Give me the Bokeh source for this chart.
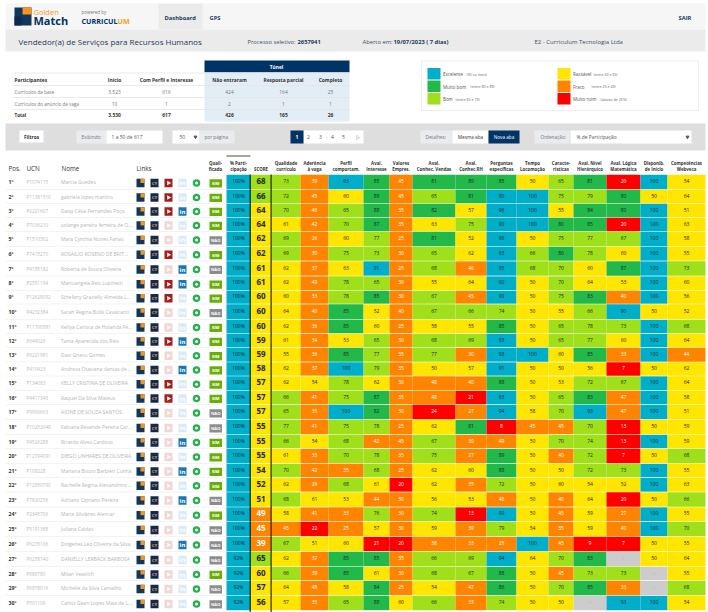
from bokeh.core.properties import value
from bokeh.models import ColumnDataSource, Range1d
from bokeh.plotting import figure
from bokeh.embed import file_html
from bokeh.resources import INLINE
import math

# candidates
ucn = ["P1074115","P11381510","P2221607","P7036210","P1510302","P7415270","P4185182","P2551194","P12628092","P4232384",
       "P11700581","P649026","P6221981","P410423","P134083","P4417345","P9906603","P10252049","P4526288","P12794091",
       "P108228","P12950790","P7820256","P2345706","P5191388","P6276106","P6258740","P686780","P6878016","P501109"]
nomes = ["Marcia Guedes","gabriela lopes martins","Daisy Célia Fernandes Poço","solange pereira ferreira de O...",
         "Mara Cynthia Nunes Farias","ROSAILIO ROSENO DE BRIT...","Roberta de Souza Oliveira","Mariuangela Reis Lupinetti",
         "Sthefany Grazielly Almeida L...","Sarah Regina Bulik Cavalcanti","Kellya Carioca de Holanda Fe...",
         "Tania Aparecida dos Reis","Davi Gnecu Gomes","Andreza Otaviana dantas de ...","KELLY CRISTINA DE OLIVEIRA",
         "Raquel Da Silva Mateus","AIONE DE SOUZA SANTOS","Fabiana Resende Pereira Car...","Ricardo Alves Cardoso",
         "DIEGO LINHARES DE OLIVEIRA","Mariana Bozzo Barbieri Cunha","Rachelle Regina Alexandrino ...",
         "Adriano Cipriano Pereira","Maria Silviânes Alencar","Juliana Caldas","Dolgenes Leo Oliveira da Silva",
         "DANIELLY LERBACK BARBOSA","Milan Veselich","Michelle da Silva Carvalho","Carlos Gean Lopes Maia de L..."]
video = [1,1,1,0,0,1,0,1,1,0, 0,1,0,0,1,1,0,0,0,0, 0,0,0,0,0,0,0,0,0,0]
linkedin = [0,0,1,0,0,0,1,1,0,0, 0,1,0,1,0,0,0,0,1,0, 1,0,1,0,0,1,0,0,0,0]
qualificado = [1,1,1,1,0,1,0,1,1,0, 1,1,1,1,1,1,0,0,1,1, 1,1,0,1,0,0,0,1,0,0]

# heatmap columns
pct = [100]*26 + [92]*4
score = [68,66,64,64,62,62,61,61,60,60,60,59,59,58,57,57,57,55,55,55,54,52,51,49,45,39,65,60,57,56]
qualidade = [73,72,70,61,69,69,62,62,60,64,62,61,55,62,62,66,65,77,66,61,70,62,68,58,45,67,62,66,64,57]
aderencia = [39,45,46,42,26,30,37,49,33,40,36,34,36,37,54,41,35,41,54,33,42,29,61,41,22,51,37,39,48,35]
perfil = [93,60,65,70,60,75,63,78,78,85,85,53,85,100,78,75,100,75,68,70,35,68,53,33,25,60,85,85,58,65]
interesse = [85,89,88,87,77,73,91,65,85,52,60,65,77,79,62,87,82,78,42,78,68,61,44,76,57,21,85,61,84,88]
valores = [45,45,35,35,25,30,25,30,30,40,25,30,35,35,30,35,30,25,45,35,25,20,30,30,30,20,35,30,25,60]
vendas = [81,65,82,63,81,65,68,55,67,67,58,68,77,50,48,48,24,62,67,75,62,62,56,74,59,38,66,68,54,66]
conhec_rh = [89,81,57,75,52,62,46,64,45,66,55,69,30,57,40,21,27,81,30,27,60,35,53,13,39,33,69,67,47,33]
perguntas = [85,90,96,90,96,93,95,90,90,74,85,93,93,91,88,93,94,8,49,89,88,72,46,90,79,25,94,88,86,74]
tempo = [50,100,100,100,50,66,68,50,50,50,50,50,100,50,50,50,58,45,50,50,50,50,50,50,54,100,64,50,50,50]
caract = [65,75,55,80,75,80,70,70,75,55,65,65,60,50,53,65,70,45,70,40,50,60,40,45,35,45,70,45,70,50]
nivel = [81,79,84,85,77,78,60,64,83,66,78,77,85,56,72,83,93,70,74,72,72,54,64,59,59,9,83,73,85,None]
logica = [20,80,80,20,67,60,87,53,40,90,73,60,33,7,67,47,47,13,13,7,73,52,20,27,40,7,None,73,33,93]
dispon = [100,50,100,100,100,100,100,100,100,50,100,100,100,50,100,100,100,50,100,50,100,100,50,100,100,50,50,None,None,100]
webveca = [54,64,51,63,58,55,73,60,56,52,68,64,44,62,64,58,51,59,59,68,55,63,66,55,70,55,64,55,68,54]

columns = [pct, score, qualidade, aderencia, perfil, interesse, valores, vendas, conhec_rh, perguntas,
           tempo, caract, nivel, logica, dispon, webveca]
col_titles = [("% Parti-","cipação"),("","SCORE"),("Qualidade","currículo"),("Aderência","à vaga"),("Perfil","comportam."),
              ("Aval.","Interesse"),("Valores","Empres."),("Aval.","Conhec. Vendas"),("Aval.","Conhec.RH"),
              ("Perguntas","específicas"),("Tempo","Locomoção"),("Caracte-","rísticas"),("Aval. Nível","Hierárquico"),
              ("Aval. Lógica","Matemática"),("Disponib.","de Início"),("Competências","Webveca")]

# funnel table
funil_rows = ["Currículos da base","Currículos do anúncio da vaga","Total"]
funil_inicio = ["3.523","10","3.530"]
funil_perfil = ["616","1","617"]
funil_nao = ["424","2","426"]
funil_parcial = ["164","1","165"]
funil_completo = ["25","1","26"]

# legend
faixas = ["Excelente","Muito bom","Bom","Razoável","Fraco","Muito ruim"]
faixas_obs = ["(90 ou mais)","(entre 80 e 89)","(entre 65 e 79)","(entre 50 e 65)","(entre 25 e 49)","(abaixo de 25%)"]

# layout, in page pixels
col_edges = [226,250,271,300,328,363,389,412,455,486,516,548,573,606,640,667,705]
row_edges = [174,189,203,217,231,246,260.5,275.5,290,303.5,319,333,347,361.5,375.5,390,404,419,434,448,463,
             477,491.5,506.5,521,536,551,566,580,595,610]

BLUE, GREEN, LIME, YELLOW, ORANGE, RED, GREY = "#00aec9","#22b84a","#a0e01a","#ffe600","#ff8500","#ff0000","#cccccc"
NAVY = "#003366"
FONT = value("Open Sans")

def cor(v):
    if v is None:
        return GREY
    if v >= 90:
        return BLUE
    if v >= 80:
        return GREEN
    if v >= 65:
        return LIME
    if v >= 50:
        return YELLOW
    if v >= 25:
        return ORANGE
    return RED

p = figure(width=708, height=612, x_range=Range1d(0,708), y_range=Range1d(612,0),
           output_backend="svg", toolbar_location=None, min_border=0)
p.axis.visible = False
p.grid.visible = False
p.outline_line_color = None

def box(x0, x1, y0, y1, color, line=None):
    p.quad(left=[x0], right=[x1], top=[y0], bottom=[y1], fill_color=color, line_color=line, line_width=0.7)

def txt(x, y, s, size=5.5, color="#333333", align="left", bold=False):
    p.text(x=[x], y=[y], text=[s], text_font=FONT, text_font_size=f"{size}px", text_color=color,
           text_align=align, text_baseline="middle", text_font_style="bold" if bold else "normal")

def txts(xs, ys, ss, size=5.5, color="#333333", align="left", bold=False):
    src = ColumnDataSource(dict(x=xs, y=ys, t=ss, c=color if isinstance(color, list) else [color]*len(xs)))
    p.text(x="x", y="y", text="t", text_color="c", source=src, text_font=FONT, text_font_size=f"{size}px",
           text_align=align, text_baseline="middle", text_font_style="bold" if bold else "normal")

# top bars
box(5,705,3,29,"#f6f6f6")
box(158,202,3,29,"#ebebeb")
box(5,705,29,51,"#ebebeb")
box(14,31,7,25,"#12355b")
box(22,31,7,14,"#f7941d")
box(14,21,16,25,"#0d2a4a")
txt(33,11,"Golden",7.5,"#f7941d")
txt(33,20,"Match",11,NAVY,bold=True)
txt(81,11.5,"powered by",4.5,"#777777")
txt(81,20,"CURRICUL",7.2,NAVY,bold=True)
txt(117,20,"UM",7.2,"#f7a11d",bold=True)
txt(164,17,"Dashboard",5.8,"#1f3a56",bold=True)
txt(209,17,"GPS",5.8,"#1f3a56",bold=True)
txt(678,17,"SAIR",5.8,"#1f3a56",bold=True)
txt(18,41,"Vendedor(a) de Serviços para Recursos Humanos",8,"#1f3a56")
txt(247,41,"Processo seletivo:",5.8,"#3a5068")
txt(297,41,"2657941",5.8,"#1f3a56",bold=True)
txt(362,41,"Aberto em:",5.8,"#3a5068")
txt(393,41,"19/07/2023 ( 7 dias)",5.8,"#1f3a56",bold=True)
txt(534,41,"E2 - Curriculum Tecnologia Ltda",6,"#3a5068")

# funnel table
box(204,349,60,72,NAVY)
box(204,349,72,121,"#e3edf6")
txt(276,66,"Túnel",4.8,"white","center",True)
for y in [72.5,85,97,109]:
    p.line([12,349],[y,y],line_color="#e4e4e4",line_width=0.8)
head_y = 79
fx = [114,166,229,283,330]
txt(14,head_y,"Participantes",4.9,bold=True)
for x,s in zip(fx,["Início","Com Perfil e Interesse","Não entraram","Resposta parcial","Completo"]):
    txt(x,head_y,s,4.9,align="center",bold=True)
for i,y in enumerate([91,103,114.5]):
    b = i == 2
    c = "#333333" if b else "#777777"
    txt(14,y,funil_rows[i],4.6,c,bold=b)
    for x,arr in zip(fx,[funil_inicio,funil_perfil,funil_nao,funil_parcial,funil_completo]):
        txt(x,y,arr[i],4.9,c,"center",b)

# legend
box(421,698,60.5,110,"white","#e6e6e6")
leg_cores = [BLUE,GREEN,LIME,YELLOW,ORANGE,RED]
leg_x = [427,427,427,557,557,557]
leg_y = [67.5,80,92.5,67.5,80,92.5]
leg_obs_x = [466,470,455,593,591,600]
for i in range(6):
    box(leg_x[i],leg_x[i]+13,leg_y[i],leg_y[i]+11.6,leg_cores[i])
    txt(leg_x[i]+15.5,leg_y[i]+6,faixas[i],4.5,"#555555")
    txt(leg_obs_x[i],leg_y[i]+6.2,faixas_obs[i],3.6,"#666666")

# toolbar
box(5,705,123,150,"#dedede")
box(19,43,130,142,"white")
txt(31,136.5,"Filtros",4.8,"#333333","center",True)
box(76,106,130,143,"#e9ecef")
txt(81,136.5,"Exibindo:",4.7,"#777777")
box(106,162,130,143,"white")
txt(111,136.5,"1 a 50 de 617",5,"#555555")
box(172,199,130,143,"white")
txt(179,136.5,"50",5,"#555555")
p.scatter([195],[136.5],marker="inverted_triangle",size=3,color="#555555")
box(199,234,130,143,"#e9ecef")
txt(204,136.5,"por página",4.7,"#777777")
box(303,363,130,143,"white")
box(290,303,130,143,NAVY)
txt(296.5,136.5,"1",5,"white","center",True)
for x,s in zip([308,320,332,343,357],["2","3","4","5","|›"]):
    txt(x,136.5,s,5,"#555555","center")
box(420,452,130,143,"#e9ecef")
txt(425,136.5,"Detalhes:",4.7,"#777777")
box(452,488,130,143,"white")
txt(470,136.5,"Mesma aba",4.7,"#333333","center")
box(488,519,130,143,NAVY)
txt(503.5,136.5,"Nova aba",4.7,"white","center")
box(534,569,130,143,"#e9ecef")
txt(540,136.5,"Ordenação:",4.7,"#777777")
box(570,691,130,143,"white")
txt(576,136.5,"% de Participação",4.9,"#555555")
p.scatter([687],[136.5],marker="inverted_triangle",size=3,color="#555555")

# table headers
box(226,250,155,156,"#5a4a3a")
txt(8,167.5,"Pos.",6.3,"#333333")
txt(26,167.5,"UCN",6.3,"#333333")
txt(61,167.5,"Nome",6.3,"#333333")
txt(136,167.5,"Links",6.3,"#333333")
txt(215,162,"Quali-",4.4,"#333333","center",True)
txt(215,168,"ficado",4.4,"#333333","center",True)
for j,(a,b) in enumerate(col_titles):
    xc = (col_edges[j]+col_edges[j+1])/2
    if a:
        txt(xc,162,a,4.4,"#333333","center",True)
    txt(xc,168,b,4.4,"#333333","center",True)

# rows
n = len(score)
y_top = row_edges[:n]
y_bot = row_edges[1:n+1]
y_mid = [(a+b)/2-0.8 for a,b in zip(y_top,y_bot)]

for y in y_top[1:]:
    p.line([5,226],[y,y],line_color="#eeeeee",line_width=0.7)

txts([8]*n,[y+1 for y in y_mid],[f"{i+1}º" for i in range(n)],5.2,"#333333","left",True)
txts([26]*n,[y+1 for y in y_mid],ucn,4.7,"#bbbbbb")
txts([60.5]*n,[y+1 for y in y_mid],nomes,5,"#b5b5b5")

# heat cells
cell = dict(left=[],right=[],top=[],bottom=[],color=[])
vx,vy,vt,vc = [],[],[],[]
sx,sy,st,sc = [],[],[],[]
for j,col in enumerate(columns):
    for i,v in enumerate(col):
        cell["left"].append(col_edges[j])
        cell["right"].append(col_edges[j+1])
        cell["top"].append(y_top[i]+0.35)
        cell["bottom"].append(y_bot[i]-0.35)
        cell["color"].append(cor(v))
        tc = "white" if v is not None and v < 50 else "#222222"
        if v is None:
            tc = "#999999"
        xc = (col_edges[j]+col_edges[j+1])/2
        label = "-" if v is None else str(v)
        if j == 0:
            label += "%"
        if j == 1:
            sx.append(xc); sy.append(y_mid[i]); st.append(label); sc.append(tc)
        else:
            vx.append(xc); vy.append(y_mid[i]); vt.append(label); vc.append(tc)
p.quad(left="left",right="right",top="top",bottom="bottom",fill_color="color",line_color=None,source=ColumnDataSource(cell))
txts(vx,vy,vt,5,vc,"center")
txts(sx,sy,st,8,sc,"center",True)

# score column lines
for x in [249.7,270.6]:
    p.line([x,x],[174,612],line_color="black",line_width=1)

# link icons
ic_y = [y+1.8 for y in y_mid]
def ic(x,cores):
    p.quad(left=[x-4]*n,right=[x+4]*n,top=[y-4.2 for y in ic_y],bottom=[y+4.2 for y in ic_y],
           fill_color=cores,line_color=None)

ic(140,["#12355b"]*n)
p.quad(left=[140]*n,right=[144]*n,top=[y-4.2 for y in ic_y],bottom=[y for y in ic_y],fill_color="#f7941d",line_color=None)
ic(154,["#0f2a55"]*n)
txts([154]*n,ic_y,["CY"]*n,4.2,"#f7a11d","center",True)
ic(168,["#a81c1c" if v else "#f3d5d5" for v in video])
p.scatter([168]*n,ic_y,marker="triangle",size=4.5,angle=-math.pi/2,color="white",line_color=None)
ic(182,["#1a77b5" if v else "#d9ebf7" for v in linkedin])
txts([182]*n,ic_y,["in"]*n,6,"white","center",True)
p.scatter([196]*n,ic_y,marker="circle",size=7.5,color="#22b14c",line_color=None)
p.scatter([196]*n,ic_y,marker="circle",size=3,color="white",line_color=None)

# qualified badges
bd_y = [y+2.2 for y in y_mid]
p.quad(left=[209]*n,right=[221.5]*n,top=[y-4.2 for y in bd_y],bottom=[y+4.2 for y in bd_y],
       fill_color=["#6aaf08" if q else "#8c8c8c" for q in qualificado],line_color=None)
txts([215.2]*n,bd_y,["SIM" if q else "NÃO" for q in qualificado],4.2,"white","center",True)

open("out.html","w").write(file_html(p,INLINE))
